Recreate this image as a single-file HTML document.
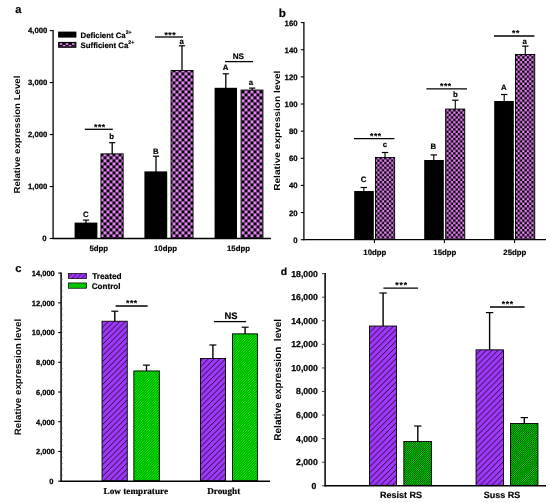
<!DOCTYPE html>
<html lang="en"><head><meta charset="utf-8"><title>Relative expression level</title>
<style>html,body{margin:0;padding:0;background:#fff;}body{width:550px;height:503px;overflow:hidden;}svg{display:block;}</style>
</head><body>
<svg width="550" height="503" viewBox="0 0 550 503" text-rendering="geometricPrecision">
<defs>
<pattern id="chkA" patternUnits="userSpaceOnUse" width="6" height="6" x="100.5" y="153.4"><rect width="6" height="6" fill="#e680f5"/><rect x="0" y="0" width="3" height="3" fill="#000"/><rect x="3" y="3" width="3" height="3" fill="#000"/></pattern>
<pattern id="chkB" patternUnits="userSpaceOnUse" width="4.6" height="4.8" x="375" y="157"><rect width="4.6" height="4.8" fill="#000"/><rect x="2.3" y="0" width="2.3" height="2.4" fill="#e680f5"/><rect x="0" y="2.4" width="2.3" height="2.4" fill="#e680f5"/></pattern>
<pattern id="chkL" patternUnits="userSpaceOnUse" width="6.15" height="3.5" x="59.6" y="43.1"><rect width="6.15" height="3.5" fill="#000"/><rect x="0" y="0" width="2.6" height="1.75" fill="#e680f5"/><rect x="3.07" y="1.75" width="2.6" height="1.75" fill="#e680f5"/></pattern>
<pattern id="hatPC" patternUnits="userSpaceOnUse" width="5.73" height="5.73"><rect width="5.73" height="5.73" fill="#9f38fa"/><path d="M-1 1L1 -1M-1 6.73 L6.73 -1M4.73 6.73 L6.73 4.73" stroke="#000" stroke-width="0.8" fill="none"/></pattern>
<pattern id="hatPD" patternUnits="userSpaceOnUse" width="5.85" height="5.85"><rect width="5.85" height="5.85" fill="#9f38fa"/><path d="M-1 1L1 -1M-1 6.85 L6.85 -1M4.85 6.85 L6.85 4.85" stroke="#000" stroke-width="0.8" fill="none"/></pattern>
<pattern id="hatPL" patternUnits="userSpaceOnUse" width="4.8" height="4.8"><rect width="4.8" height="4.8" fill="#9f38fa"/><path d="M-1 1L1 -1M-1 5.8 L5.8 -1M3.8 5.8 L5.8 3.8" stroke="#000" stroke-width="0.7" fill="none"/></pattern>
<pattern id="hatGL" patternUnits="userSpaceOnUse" width="2.8" height="2.8"><rect width="2.8" height="2.8" fill="#00f000"/><path d="M-1 1L1 -1M-1 3.8 L3.8 -1M1.8 3.8 L3.8 1.8" stroke="#000" stroke-width="0.55" fill="none"/></pattern>
<pattern id="hatGC" patternUnits="userSpaceOnUse" width="2.55" height="2.55"><rect width="2.55" height="2.55" fill="#00f000"/><path d="M-1 1L1 -1M-1 3.55 L3.55 -1M1.55 3.55 L3.55 1.55" stroke="#002800" stroke-width="0.55" fill="none"/></pattern>
<pattern id="hatGD" patternUnits="userSpaceOnUse" width="2.15" height="2.15"><rect width="2.15" height="2.15" fill="#00d000"/><path d="M-1 1L1 -1M-1 3.15 L3.15 -1M1.15 3.15 L3.15 1.15" stroke="#000" stroke-width="0.62" fill="none"/></pattern>
</defs>
<rect x="0" y="0" width="550" height="503" fill="#fff"/>
<g id="panel-a">
<text x="15.2" y="12.9" font-family='"Liberation Sans", Arial, Helvetica, sans-serif' font-size="11.2" font-weight="bold" text-anchor="start" fill="#000" stroke="#000" stroke-width="0.18" stroke-linejoin="round">a</text>
<line x1="86" y1="220.1" x2="86" y2="223.1" stroke="#000" stroke-width="1.3"/>
<line x1="82.9" y1="220.1" x2="89.1" y2="220.1" stroke="#000" stroke-width="1.2"/>
<rect x="74.6" y="222.6" width="22.8" height="15.9" fill="#000"/>
<line x1="112.2" y1="142.7" x2="112.2" y2="153.9" stroke="#000" stroke-width="1.3"/>
<line x1="109.1" y1="142.7" x2="115.3" y2="142.7" stroke="#000" stroke-width="1.2"/>
<rect x="100.95" y="153.85" width="22.2" height="84.2" fill="url(#chkA)" stroke="#000" stroke-width="0.9"/>
<line x1="156" y1="156.2" x2="156" y2="171.9" stroke="#000" stroke-width="1.3"/>
<line x1="152.9" y1="156.2" x2="159.1" y2="156.2" stroke="#000" stroke-width="1.2"/>
<rect x="144.4" y="171.4" width="22.8" height="67.1" fill="#000"/>
<line x1="182" y1="45.8" x2="182" y2="70.5" stroke="#000" stroke-width="1.3"/>
<line x1="178.9" y1="45.8" x2="185.1" y2="45.8" stroke="#000" stroke-width="1.2"/>
<rect x="171.05" y="70.45" width="22" height="167.6" fill="url(#chkA)" stroke="#000" stroke-width="0.9"/>
<line x1="225.8" y1="73.8" x2="225.8" y2="88.3" stroke="#000" stroke-width="1.3"/>
<line x1="222.7" y1="73.8" x2="228.9" y2="73.8" stroke="#000" stroke-width="1.2"/>
<rect x="214.6" y="87.8" width="22.4" height="150.7" fill="#000"/>
<line x1="252.2" y1="88.1" x2="252.2" y2="90.1" stroke="#000" stroke-width="1.3"/>
<line x1="249.1" y1="88.1" x2="255.3" y2="88.1" stroke="#000" stroke-width="1.2"/>
<rect x="241.05" y="90.05" width="21.9" height="148" fill="url(#chkA)" stroke="#000" stroke-width="0.9"/>
<line x1="53.1" y1="30" x2="53.1" y2="239.1" stroke="#000" stroke-width="1.3"/>
<line x1="52.5" y1="238.5" x2="271" y2="238.5" stroke="#000" stroke-width="1.3"/>
<line x1="49.8" y1="238.5" x2="53.1" y2="238.5" stroke="#000" stroke-width="1.1"/>
<text x="46.5" y="241" font-family='"Liberation Sans", Arial, Helvetica, sans-serif' font-size="7.7" font-weight="bold" text-anchor="end" fill="#000" stroke="#000" stroke-width="0.25" stroke-linejoin="round">0</text>
<line x1="49.8" y1="186.53" x2="53.1" y2="186.53" stroke="#000" stroke-width="1.1"/>
<text x="47.3" y="189.03" font-family='"Liberation Sans", Arial, Helvetica, sans-serif' font-size="7.7" font-weight="bold" text-anchor="end" fill="#000" stroke="#000" stroke-width="0.25" stroke-linejoin="round">1,000</text>
<line x1="49.8" y1="134.55" x2="53.1" y2="134.55" stroke="#000" stroke-width="1.1"/>
<text x="47.3" y="137.05" font-family='"Liberation Sans", Arial, Helvetica, sans-serif' font-size="7.7" font-weight="bold" text-anchor="end" fill="#000" stroke="#000" stroke-width="0.25" stroke-linejoin="round">2,000</text>
<line x1="49.8" y1="82.57" x2="53.1" y2="82.57" stroke="#000" stroke-width="1.1"/>
<text x="47.3" y="85.07" font-family='"Liberation Sans", Arial, Helvetica, sans-serif' font-size="7.7" font-weight="bold" text-anchor="end" fill="#000" stroke="#000" stroke-width="0.25" stroke-linejoin="round">3,000</text>
<line x1="49.8" y1="30.6" x2="53.1" y2="30.6" stroke="#000" stroke-width="1.1"/>
<text x="47.3" y="33.1" font-family='"Liberation Sans", Arial, Helvetica, sans-serif' font-size="7.7" font-weight="bold" text-anchor="end" fill="#000" stroke="#000" stroke-width="0.25" stroke-linejoin="round">4,000</text>
<rect x="58.1" y="31.6" width="18.3" height="6" fill="#000"/>
<rect x="58.7" y="42.5" width="17.1" height="4.7" fill="url(#chkL)" stroke="#000" stroke-width="1.2"/>
<text x="80.6" y="37.7" font-family='"Liberation Sans", Arial, Helvetica, sans-serif' font-size="7.8" font-weight="bold" text-anchor="start" fill="#000" stroke="#000" stroke-width="0.18" stroke-linejoin="round">Deficient Ca<tspan font-size="5.2" dy="-3.9">2+</tspan></text>
<text x="80.6" y="47.9" font-family='"Liberation Sans", Arial, Helvetica, sans-serif' font-size="7.8" font-weight="bold" text-anchor="start" fill="#000" stroke="#000" stroke-width="0.18" stroke-linejoin="round">Sufficient Ca<tspan font-size="5.2" dy="-3.9">2+</tspan></text>
<text x="85.8" y="216.8" font-family='"Liberation Sans", Arial, Helvetica, sans-serif' font-size="7.8" font-weight="bold" text-anchor="middle" fill="#000" stroke="#000" stroke-width="0.18" stroke-linejoin="round">C</text>
<text x="111.7" y="139.1" font-family='"Liberation Sans", Arial, Helvetica, sans-serif' font-size="7.8" font-weight="bold" text-anchor="middle" fill="#000" stroke="#000" stroke-width="0.18" stroke-linejoin="round">b</text>
<text x="155.7" y="153.6" font-family='"Liberation Sans", Arial, Helvetica, sans-serif' font-size="7.8" font-weight="bold" text-anchor="middle" fill="#000" stroke="#000" stroke-width="0.18" stroke-linejoin="round">B</text>
<text x="181.6" y="43.7" font-family='"Liberation Sans", Arial, Helvetica, sans-serif' font-size="7.8" font-weight="bold" text-anchor="middle" fill="#000" stroke="#000" stroke-width="0.18" stroke-linejoin="round">a</text>
<text x="225.6" y="70.4" font-family='"Liberation Sans", Arial, Helvetica, sans-serif' font-size="7.8" font-weight="bold" text-anchor="middle" fill="#000" stroke="#000" stroke-width="0.18" stroke-linejoin="round">A</text>
<text x="250.9" y="84.9" font-family='"Liberation Sans", Arial, Helvetica, sans-serif' font-size="7.8" font-weight="bold" text-anchor="middle" fill="#000" stroke="#000" stroke-width="0.18" stroke-linejoin="round">a</text>
<line x1="84.8" y1="129.3" x2="112.8" y2="129.3" stroke="#000" stroke-width="1.3"/>
<text x="99.9" y="129.8" font-family='"Liberation Sans", Arial, Helvetica, sans-serif' font-size="8.5" font-weight="bold" text-anchor="middle" fill="#000" letter-spacing="0.6" stroke="#000" stroke-width="0.18" stroke-linejoin="round">***</text>
<line x1="155" y1="37" x2="183" y2="37" stroke="#000" stroke-width="1.3"/>
<text x="170.3" y="37.5" font-family='"Liberation Sans", Arial, Helvetica, sans-serif' font-size="8.5" font-weight="bold" text-anchor="middle" fill="#000" letter-spacing="0.6" stroke="#000" stroke-width="0.18" stroke-linejoin="round">***</text>
<line x1="225" y1="61.6" x2="253" y2="61.6" stroke="#000" stroke-width="1.3"/>
<text x="238.4" y="59" font-family='"Liberation Sans", Arial, Helvetica, sans-serif' font-size="8.1" font-weight="bold" text-anchor="middle" fill="#000" stroke="#000" stroke-width="0.18" stroke-linejoin="round">NS</text>
<text x="98.7" y="251.1" font-family='"Liberation Sans", Arial, Helvetica, sans-serif' font-size="7.8" font-weight="bold" text-anchor="middle" fill="#000" stroke="#000" stroke-width="0.18" stroke-linejoin="round">5dpp</text>
<text x="165.5" y="251.1" font-family='"Liberation Sans", Arial, Helvetica, sans-serif' font-size="7.8" font-weight="bold" text-anchor="middle" fill="#000" stroke="#000" stroke-width="0.18" stroke-linejoin="round">10dpp</text>
<text x="238.5" y="251.1" font-family='"Liberation Sans", Arial, Helvetica, sans-serif' font-size="7.8" font-weight="bold" text-anchor="middle" fill="#000" stroke="#000" stroke-width="0.18" stroke-linejoin="round">15dpp</text>
<text transform="translate(19.7 134.65) rotate(-90)" x="-58.95" y="0" textLength="117.9" lengthAdjust="spacingAndGlyphs" font-family='"Liberation Sans", Arial, Helvetica, sans-serif' font-size="8.8" font-weight="bold" fill="#000">Relative expression Level</text>
</g>
<g id="panel-b">
<text x="278.8" y="17" font-family='"Liberation Sans", Arial, Helvetica, sans-serif' font-size="11.6" font-weight="bold" text-anchor="start" fill="#000" stroke="#000" stroke-width="0.18" stroke-linejoin="round">b</text>
<line x1="363.8" y1="187.5" x2="363.8" y2="191.5" stroke="#000" stroke-width="1.1"/>
<line x1="360.6" y1="187.5" x2="367" y2="187.5" stroke="#000" stroke-width="1.2"/>
<rect x="354.2" y="191" width="19.6" height="48.7" fill="#000"/>
<line x1="385" y1="152.5" x2="385" y2="157.5" stroke="#000" stroke-width="1.1"/>
<line x1="381.8" y1="152.5" x2="388.2" y2="152.5" stroke="#000" stroke-width="1.2"/>
<rect x="375.45" y="157.45" width="19.2" height="81.8" fill="url(#chkB)" stroke="#000" stroke-width="0.9"/>
<line x1="433.8" y1="154.9" x2="433.8" y2="160.5" stroke="#000" stroke-width="1.1"/>
<line x1="430.6" y1="154.9" x2="437" y2="154.9" stroke="#000" stroke-width="1.2"/>
<rect x="424.2" y="160" width="19.6" height="79.7" fill="#000"/>
<line x1="455.3" y1="100.2" x2="455.3" y2="109.1" stroke="#000" stroke-width="1.1"/>
<line x1="452.1" y1="100.2" x2="458.5" y2="100.2" stroke="#000" stroke-width="1.2"/>
<rect x="445.65" y="109.05" width="19.1" height="130.2" fill="url(#chkB)" stroke="#000" stroke-width="0.9"/>
<line x1="504.2" y1="94.5" x2="504.2" y2="101.5" stroke="#000" stroke-width="1.1"/>
<line x1="501" y1="94.5" x2="507.4" y2="94.5" stroke="#000" stroke-width="1.2"/>
<rect x="494.2" y="101" width="19.6" height="138.7" fill="#000"/>
<line x1="525.3" y1="46.1" x2="525.3" y2="54.5" stroke="#000" stroke-width="1.1"/>
<line x1="522.1" y1="46.1" x2="528.5" y2="46.1" stroke="#000" stroke-width="1.2"/>
<rect x="515.45" y="54.45" width="19.3" height="184.8" fill="url(#chkB)" stroke="#000" stroke-width="0.9"/>
<line x1="303.9" y1="22" x2="303.9" y2="240.3" stroke="#000" stroke-width="1.3"/>
<line x1="303.3" y1="239.7" x2="546" y2="239.7" stroke="#000" stroke-width="1.3"/>
<line x1="374.4" y1="239.7" x2="374.4" y2="243" stroke="#000" stroke-width="1.1"/>
<line x1="444.4" y1="239.7" x2="444.4" y2="243" stroke="#000" stroke-width="1.1"/>
<line x1="514.6" y1="239.7" x2="514.6" y2="243" stroke="#000" stroke-width="1.1"/>
<line x1="300.8" y1="239.7" x2="303.9" y2="239.7" stroke="#000" stroke-width="1.1"/>
<text x="297.6" y="242.7" font-family='"Liberation Sans", Arial, Helvetica, sans-serif' font-size="7.8" font-weight="bold" text-anchor="end" fill="#000" stroke="#000" stroke-width="0.25" stroke-linejoin="round">0</text>
<line x1="300.8" y1="212.56" x2="303.9" y2="212.56" stroke="#000" stroke-width="1.1"/>
<text x="297.6" y="215.56" font-family='"Liberation Sans", Arial, Helvetica, sans-serif' font-size="7.8" font-weight="bold" text-anchor="end" fill="#000" stroke="#000" stroke-width="0.25" stroke-linejoin="round">20</text>
<line x1="300.8" y1="185.42" x2="303.9" y2="185.42" stroke="#000" stroke-width="1.1"/>
<text x="297.6" y="188.42" font-family='"Liberation Sans", Arial, Helvetica, sans-serif' font-size="7.8" font-weight="bold" text-anchor="end" fill="#000" stroke="#000" stroke-width="0.25" stroke-linejoin="round">40</text>
<line x1="300.8" y1="158.29" x2="303.9" y2="158.29" stroke="#000" stroke-width="1.1"/>
<text x="297.6" y="161.29" font-family='"Liberation Sans", Arial, Helvetica, sans-serif' font-size="7.8" font-weight="bold" text-anchor="end" fill="#000" stroke="#000" stroke-width="0.25" stroke-linejoin="round">60</text>
<line x1="300.8" y1="131.15" x2="303.9" y2="131.15" stroke="#000" stroke-width="1.1"/>
<text x="297.6" y="134.15" font-family='"Liberation Sans", Arial, Helvetica, sans-serif' font-size="7.8" font-weight="bold" text-anchor="end" fill="#000" stroke="#000" stroke-width="0.25" stroke-linejoin="round">80</text>
<line x1="300.8" y1="104.01" x2="303.9" y2="104.01" stroke="#000" stroke-width="1.1"/>
<text x="297.6" y="107.01" font-family='"Liberation Sans", Arial, Helvetica, sans-serif' font-size="7.8" font-weight="bold" text-anchor="end" fill="#000" stroke="#000" stroke-width="0.25" stroke-linejoin="round">100</text>
<line x1="300.8" y1="76.88" x2="303.9" y2="76.88" stroke="#000" stroke-width="1.1"/>
<text x="297.6" y="79.88" font-family='"Liberation Sans", Arial, Helvetica, sans-serif' font-size="7.8" font-weight="bold" text-anchor="end" fill="#000" stroke="#000" stroke-width="0.25" stroke-linejoin="round">120</text>
<line x1="300.8" y1="49.74" x2="303.9" y2="49.74" stroke="#000" stroke-width="1.1"/>
<text x="297.6" y="52.74" font-family='"Liberation Sans", Arial, Helvetica, sans-serif' font-size="7.8" font-weight="bold" text-anchor="end" fill="#000" stroke="#000" stroke-width="0.25" stroke-linejoin="round">140</text>
<line x1="300.8" y1="22.6" x2="303.9" y2="22.6" stroke="#000" stroke-width="1.1"/>
<text x="297.6" y="25.6" font-family='"Liberation Sans", Arial, Helvetica, sans-serif' font-size="7.8" font-weight="bold" text-anchor="end" fill="#000" stroke="#000" stroke-width="0.25" stroke-linejoin="round">160</text>
<text x="363.6" y="182" font-family='"Liberation Sans", Arial, Helvetica, sans-serif' font-size="7.8" font-weight="bold" text-anchor="middle" fill="#000" stroke="#000" stroke-width="0.18" stroke-linejoin="round">C</text>
<text x="385" y="147.1" font-family='"Liberation Sans", Arial, Helvetica, sans-serif' font-size="7.8" font-weight="bold" text-anchor="middle" fill="#000" stroke="#000" stroke-width="0.18" stroke-linejoin="round">c</text>
<text x="433.4" y="149.2" font-family='"Liberation Sans", Arial, Helvetica, sans-serif' font-size="7.8" font-weight="bold" text-anchor="middle" fill="#000" stroke="#000" stroke-width="0.18" stroke-linejoin="round">B</text>
<text x="455.4" y="96.7" font-family='"Liberation Sans", Arial, Helvetica, sans-serif' font-size="7.8" font-weight="bold" text-anchor="middle" fill="#000" stroke="#000" stroke-width="0.18" stroke-linejoin="round">b</text>
<text x="503.8" y="90.4" font-family='"Liberation Sans", Arial, Helvetica, sans-serif' font-size="7.8" font-weight="bold" text-anchor="middle" fill="#000" stroke="#000" stroke-width="0.18" stroke-linejoin="round">A</text>
<text x="524.7" y="43.7" font-family='"Liberation Sans", Arial, Helvetica, sans-serif' font-size="7.8" font-weight="bold" text-anchor="middle" fill="#000" stroke="#000" stroke-width="0.18" stroke-linejoin="round">a</text>
<line x1="354" y1="138.6" x2="394.4" y2="138.6" stroke="#000" stroke-width="1.3"/>
<text x="375.9" y="139.1" font-family='"Liberation Sans", Arial, Helvetica, sans-serif' font-size="8.5" font-weight="bold" text-anchor="middle" fill="#000" letter-spacing="0.6" stroke="#000" stroke-width="0.18" stroke-linejoin="round">***</text>
<line x1="426.4" y1="88.8" x2="467" y2="88.8" stroke="#000" stroke-width="1.3"/>
<text x="445.9" y="89.1" font-family='"Liberation Sans", Arial, Helvetica, sans-serif' font-size="8.5" font-weight="bold" text-anchor="middle" fill="#000" letter-spacing="0.6" stroke="#000" stroke-width="0.18" stroke-linejoin="round">***</text>
<line x1="494" y1="36" x2="534.4" y2="36" stroke="#000" stroke-width="1.3"/>
<text x="515.9" y="36.3" font-family='"Liberation Sans", Arial, Helvetica, sans-serif' font-size="8.5" font-weight="bold" text-anchor="middle" fill="#000" letter-spacing="0.6" stroke="#000" stroke-width="0.18" stroke-linejoin="round">**</text>
<text x="374.8" y="255.2" font-family='"Liberation Sans", Arial, Helvetica, sans-serif' font-size="7.8" font-weight="bold" text-anchor="middle" fill="#000" stroke="#000" stroke-width="0.18" stroke-linejoin="round">10dpp</text>
<text x="444.8" y="255.2" font-family='"Liberation Sans", Arial, Helvetica, sans-serif' font-size="7.8" font-weight="bold" text-anchor="middle" fill="#000" stroke="#000" stroke-width="0.18" stroke-linejoin="round">15dpp</text>
<text x="514.8" y="255.2" font-family='"Liberation Sans", Arial, Helvetica, sans-serif' font-size="7.8" font-weight="bold" text-anchor="middle" fill="#000" stroke="#000" stroke-width="0.18" stroke-linejoin="round">25dpp</text>
<text transform="translate(280 130.7) rotate(-90)" x="-60.1" y="0" textLength="120.2" lengthAdjust="spacingAndGlyphs" font-family='"Liberation Sans", Arial, Helvetica, sans-serif' font-size="8.7" font-weight="bold" fill="#000">Relative expression level</text>
</g>
<g id="panel-c">
<text x="15.3" y="271.7" font-family='"Liberation Sans", Arial, Helvetica, sans-serif' font-size="11.2" font-weight="bold" text-anchor="start" fill="#000" stroke="#000" stroke-width="0.18" stroke-linejoin="round">c</text>
<line x1="114.8" y1="311.2" x2="114.8" y2="321.3" stroke="#000" stroke-width="1.4"/>
<line x1="111.3" y1="311.2" x2="118.3" y2="311.2" stroke="#000" stroke-width="1.2"/>
<rect x="102.05" y="321.25" width="25.2" height="159.5" fill="url(#hatPC)" stroke="#000" stroke-width="0.9"/>
<line x1="146.5" y1="365.1" x2="146.5" y2="371" stroke="#000" stroke-width="1.4"/>
<line x1="143" y1="365.1" x2="150" y2="365.1" stroke="#000" stroke-width="1.2"/>
<rect x="133.85" y="370.95" width="25.5" height="109.8" fill="url(#hatGC)" stroke="#000" stroke-width="0.9"/>
<line x1="212.9" y1="345" x2="212.9" y2="358.5" stroke="#000" stroke-width="1.4"/>
<line x1="209.4" y1="345" x2="216.4" y2="345" stroke="#000" stroke-width="1.2"/>
<rect x="200.45" y="358.45" width="25.1" height="122.3" fill="url(#hatPC)" stroke="#000" stroke-width="0.9"/>
<line x1="245.1" y1="327.2" x2="245.1" y2="333.9" stroke="#000" stroke-width="1.4"/>
<line x1="241.6" y1="327.2" x2="248.6" y2="327.2" stroke="#000" stroke-width="1.2"/>
<rect x="232.45" y="333.85" width="25.1" height="146.9" fill="url(#hatGC)" stroke="#000" stroke-width="0.9"/>
<line x1="61.1" y1="272.5" x2="61.1" y2="481.9" stroke="#000" stroke-width="1.5"/>
<line x1="60.4" y1="481.2" x2="270" y2="481.2" stroke="#000" stroke-width="1.4"/>
<line x1="58.2" y1="481.2" x2="61.1" y2="481.2" stroke="#000" stroke-width="1.1"/>
<text x="53.4" y="484" font-family='"Liberation Sans", Arial, Helvetica, sans-serif' font-size="7.5" font-weight="bold" text-anchor="end" fill="#000" stroke="#000" stroke-width="0.25" stroke-linejoin="round">0</text>
<line x1="61.1" y1="475.25" x2="62.8" y2="475.25" stroke="#555" stroke-width="0.7"/>
<line x1="61.1" y1="469.31" x2="62.8" y2="469.31" stroke="#555" stroke-width="0.7"/>
<line x1="61.1" y1="463.36" x2="62.8" y2="463.36" stroke="#555" stroke-width="0.7"/>
<line x1="61.1" y1="457.42" x2="62.8" y2="457.42" stroke="#555" stroke-width="0.7"/>
<line x1="58.2" y1="451.47" x2="61.1" y2="451.47" stroke="#000" stroke-width="1.1"/>
<text x="54.8" y="454.27" font-family='"Liberation Sans", Arial, Helvetica, sans-serif' font-size="7.5" font-weight="bold" text-anchor="end" fill="#000" stroke="#000" stroke-width="0.25" stroke-linejoin="round">2,000</text>
<line x1="61.1" y1="445.53" x2="62.8" y2="445.53" stroke="#555" stroke-width="0.7"/>
<line x1="61.1" y1="439.58" x2="62.8" y2="439.58" stroke="#555" stroke-width="0.7"/>
<line x1="61.1" y1="433.63" x2="62.8" y2="433.63" stroke="#555" stroke-width="0.7"/>
<line x1="61.1" y1="427.69" x2="62.8" y2="427.69" stroke="#555" stroke-width="0.7"/>
<line x1="58.2" y1="421.74" x2="61.1" y2="421.74" stroke="#000" stroke-width="1.1"/>
<text x="54.8" y="424.54" font-family='"Liberation Sans", Arial, Helvetica, sans-serif' font-size="7.5" font-weight="bold" text-anchor="end" fill="#000" stroke="#000" stroke-width="0.25" stroke-linejoin="round">4,000</text>
<line x1="61.1" y1="415.8" x2="62.8" y2="415.8" stroke="#555" stroke-width="0.7"/>
<line x1="61.1" y1="409.85" x2="62.8" y2="409.85" stroke="#555" stroke-width="0.7"/>
<line x1="61.1" y1="403.91" x2="62.8" y2="403.91" stroke="#555" stroke-width="0.7"/>
<line x1="61.1" y1="397.96" x2="62.8" y2="397.96" stroke="#555" stroke-width="0.7"/>
<line x1="58.2" y1="392.01" x2="61.1" y2="392.01" stroke="#000" stroke-width="1.1"/>
<text x="54.8" y="394.81" font-family='"Liberation Sans", Arial, Helvetica, sans-serif' font-size="7.5" font-weight="bold" text-anchor="end" fill="#000" stroke="#000" stroke-width="0.25" stroke-linejoin="round">6,000</text>
<line x1="61.1" y1="386.07" x2="62.8" y2="386.07" stroke="#555" stroke-width="0.7"/>
<line x1="61.1" y1="380.12" x2="62.8" y2="380.12" stroke="#555" stroke-width="0.7"/>
<line x1="61.1" y1="374.18" x2="62.8" y2="374.18" stroke="#555" stroke-width="0.7"/>
<line x1="61.1" y1="368.23" x2="62.8" y2="368.23" stroke="#555" stroke-width="0.7"/>
<line x1="58.2" y1="362.29" x2="61.1" y2="362.29" stroke="#000" stroke-width="1.1"/>
<text x="54.8" y="365.09" font-family='"Liberation Sans", Arial, Helvetica, sans-serif' font-size="7.5" font-weight="bold" text-anchor="end" fill="#000" stroke="#000" stroke-width="0.25" stroke-linejoin="round">8,000</text>
<line x1="61.1" y1="356.34" x2="62.8" y2="356.34" stroke="#555" stroke-width="0.7"/>
<line x1="61.1" y1="350.39" x2="62.8" y2="350.39" stroke="#555" stroke-width="0.7"/>
<line x1="61.1" y1="344.45" x2="62.8" y2="344.45" stroke="#555" stroke-width="0.7"/>
<line x1="61.1" y1="338.5" x2="62.8" y2="338.5" stroke="#555" stroke-width="0.7"/>
<line x1="58.2" y1="332.56" x2="61.1" y2="332.56" stroke="#000" stroke-width="1.1"/>
<text x="54.8" y="335.36" font-family='"Liberation Sans", Arial, Helvetica, sans-serif' font-size="7.5" font-weight="bold" text-anchor="end" fill="#000" stroke="#000" stroke-width="0.25" stroke-linejoin="round">10,000</text>
<line x1="61.1" y1="326.61" x2="62.8" y2="326.61" stroke="#555" stroke-width="0.7"/>
<line x1="61.1" y1="320.67" x2="62.8" y2="320.67" stroke="#555" stroke-width="0.7"/>
<line x1="61.1" y1="314.72" x2="62.8" y2="314.72" stroke="#555" stroke-width="0.7"/>
<line x1="61.1" y1="308.77" x2="62.8" y2="308.77" stroke="#555" stroke-width="0.7"/>
<line x1="58.2" y1="302.83" x2="61.1" y2="302.83" stroke="#000" stroke-width="1.1"/>
<text x="54.8" y="305.63" font-family='"Liberation Sans", Arial, Helvetica, sans-serif' font-size="7.5" font-weight="bold" text-anchor="end" fill="#000" stroke="#000" stroke-width="0.25" stroke-linejoin="round">12,000</text>
<line x1="61.1" y1="296.88" x2="62.8" y2="296.88" stroke="#555" stroke-width="0.7"/>
<line x1="61.1" y1="290.94" x2="62.8" y2="290.94" stroke="#555" stroke-width="0.7"/>
<line x1="61.1" y1="284.99" x2="62.8" y2="284.99" stroke="#555" stroke-width="0.7"/>
<line x1="61.1" y1="279.05" x2="62.8" y2="279.05" stroke="#555" stroke-width="0.7"/>
<line x1="58.2" y1="273.1" x2="61.1" y2="273.1" stroke="#000" stroke-width="1.1"/>
<text x="54.8" y="275.9" font-family='"Liberation Sans", Arial, Helvetica, sans-serif' font-size="7.5" font-weight="bold" text-anchor="end" fill="#000" stroke="#000" stroke-width="0.25" stroke-linejoin="round">14,000</text>
<rect x="68.35" y="273.35" width="18.3" height="5.3" fill="url(#hatPL)" stroke="#000" stroke-width="0.7"/>
<rect x="68.35" y="282.95" width="18.3" height="5.3" fill="url(#hatGL)" stroke="#000" stroke-width="0.7"/>
<text x="92.2" y="278.8" font-family='"Liberation Sans", Arial, Helvetica, sans-serif' font-size="8.25" font-weight="bold" text-anchor="start" fill="#000" stroke="#000" stroke-width="0.18" stroke-linejoin="round">Treated</text>
<text x="91.7" y="288.5" font-family='"Liberation Sans", Arial, Helvetica, sans-serif' font-size="8.15" font-weight="bold" text-anchor="start" fill="#000" stroke="#000" stroke-width="0.18" stroke-linejoin="round">Control</text>
<line x1="115.6" y1="306" x2="147.6" y2="306" stroke="#000" stroke-width="1.3"/>
<text x="131.9" y="305.7" font-family='"Liberation Sans", Arial, Helvetica, sans-serif' font-size="8.5" font-weight="bold" text-anchor="middle" fill="#000" letter-spacing="0.6" stroke="#000" stroke-width="0.18" stroke-linejoin="round">***</text>
<line x1="214" y1="321.6" x2="246" y2="321.6" stroke="#000" stroke-width="1.3"/>
<text x="231" y="318.7" font-family='"Liberation Sans", Arial, Helvetica, sans-serif' font-size="9.4" font-weight="bold" text-anchor="middle" fill="#000" stroke="#000" stroke-width="0.18" stroke-linejoin="round">NS</text>
<text x="135.8" y="493.8" font-family='"Liberation Serif", "Times New Roman", Times, serif' font-size="9.2" font-weight="bold" text-anchor="middle" fill="#000" stroke="#000" stroke-width="0.18" stroke-linejoin="round">Low temprature</text>
<text x="223.7" y="493.8" font-family='"Liberation Serif", "Times New Roman", Times, serif' font-size="9.2" font-weight="bold" text-anchor="middle" fill="#000" stroke="#000" stroke-width="0.18" stroke-linejoin="round">Drought</text>
<text transform="translate(21.1 377.1) rotate(-90)" x="-58.2" y="0" textLength="116.4" lengthAdjust="spacingAndGlyphs" font-family='"Liberation Sans", Arial, Helvetica, sans-serif' font-size="9.3" font-weight="bold" fill="#000">Relative expression level</text>
</g>
<g id="panel-d">
<text x="280.8" y="274.8" font-family='"Liberation Sans", Arial, Helvetica, sans-serif' font-size="10.4" font-weight="bold" text-anchor="start" fill="#000" stroke="#000" stroke-width="0.18" stroke-linejoin="round">d</text>
<line x1="383.1" y1="293" x2="383.1" y2="326.1" stroke="#000" stroke-width="1.4"/>
<line x1="379.4" y1="293" x2="386.8" y2="293" stroke="#000" stroke-width="1.2"/>
<rect x="369.45" y="326.05" width="27.1" height="159.3" fill="url(#hatPD)" stroke="#000" stroke-width="0.9"/>
<line x1="417.8" y1="426" x2="417.8" y2="441.6" stroke="#000" stroke-width="1.4"/>
<line x1="414.1" y1="426" x2="421.5" y2="426" stroke="#000" stroke-width="1.2"/>
<rect x="403.85" y="441.55" width="27.6" height="43.8" fill="url(#hatGD)" stroke="#000" stroke-width="0.9"/>
<line x1="489.6" y1="312.6" x2="489.6" y2="349.9" stroke="#000" stroke-width="1.4"/>
<line x1="485.9" y1="312.6" x2="493.3" y2="312.6" stroke="#000" stroke-width="1.2"/>
<rect x="476.05" y="349.85" width="27.5" height="135.5" fill="url(#hatPD)" stroke="#000" stroke-width="0.9"/>
<line x1="524.3" y1="417.6" x2="524.3" y2="423.5" stroke="#000" stroke-width="1.4"/>
<line x1="520.6" y1="417.6" x2="528" y2="417.6" stroke="#000" stroke-width="1.2"/>
<rect x="510.45" y="423.45" width="27.5" height="61.9" fill="url(#hatGD)" stroke="#000" stroke-width="0.9"/>
<line x1="325.1" y1="273" x2="325.1" y2="486.5" stroke="#000" stroke-width="1.5"/>
<line x1="324.4" y1="485.8" x2="546" y2="485.8" stroke="#000" stroke-width="1.4"/>
<line x1="322" y1="485.8" x2="325.1" y2="485.8" stroke="#333" stroke-width="0.9"/>
<text x="316.4" y="488.8" font-family='"Liberation Sans", Arial, Helvetica, sans-serif' font-size="8.7" font-weight="bold" text-anchor="end" fill="#000" stroke="#000" stroke-width="0.25" stroke-linejoin="round">0</text>
<line x1="322" y1="462.22" x2="325.1" y2="462.22" stroke="#333" stroke-width="0.9"/>
<text x="317.8" y="465.22" font-family='"Liberation Sans", Arial, Helvetica, sans-serif' font-size="8.7" font-weight="bold" text-anchor="end" fill="#000" stroke="#000" stroke-width="0.25" stroke-linejoin="round">2,000</text>
<line x1="322" y1="438.64" x2="325.1" y2="438.64" stroke="#333" stroke-width="0.9"/>
<text x="317.8" y="441.64" font-family='"Liberation Sans", Arial, Helvetica, sans-serif' font-size="8.7" font-weight="bold" text-anchor="end" fill="#000" stroke="#000" stroke-width="0.25" stroke-linejoin="round">4,000</text>
<line x1="322" y1="415.07" x2="325.1" y2="415.07" stroke="#333" stroke-width="0.9"/>
<text x="317.8" y="418.07" font-family='"Liberation Sans", Arial, Helvetica, sans-serif' font-size="8.7" font-weight="bold" text-anchor="end" fill="#000" stroke="#000" stroke-width="0.25" stroke-linejoin="round">6,000</text>
<line x1="322" y1="391.49" x2="325.1" y2="391.49" stroke="#333" stroke-width="0.9"/>
<text x="317.8" y="394.49" font-family='"Liberation Sans", Arial, Helvetica, sans-serif' font-size="8.7" font-weight="bold" text-anchor="end" fill="#000" stroke="#000" stroke-width="0.25" stroke-linejoin="round">8,000</text>
<line x1="322" y1="367.91" x2="325.1" y2="367.91" stroke="#333" stroke-width="0.9"/>
<text x="317.8" y="370.91" font-family='"Liberation Sans", Arial, Helvetica, sans-serif' font-size="8.7" font-weight="bold" text-anchor="end" fill="#000" stroke="#000" stroke-width="0.25" stroke-linejoin="round">10,000</text>
<line x1="322" y1="344.33" x2="325.1" y2="344.33" stroke="#333" stroke-width="0.9"/>
<text x="317.8" y="347.33" font-family='"Liberation Sans", Arial, Helvetica, sans-serif' font-size="8.7" font-weight="bold" text-anchor="end" fill="#000" stroke="#000" stroke-width="0.25" stroke-linejoin="round">12,000</text>
<line x1="322" y1="320.76" x2="325.1" y2="320.76" stroke="#333" stroke-width="0.9"/>
<text x="317.8" y="323.76" font-family='"Liberation Sans", Arial, Helvetica, sans-serif' font-size="8.7" font-weight="bold" text-anchor="end" fill="#000" stroke="#000" stroke-width="0.25" stroke-linejoin="round">14,000</text>
<line x1="322" y1="297.18" x2="325.1" y2="297.18" stroke="#333" stroke-width="0.9"/>
<text x="317.8" y="300.18" font-family='"Liberation Sans", Arial, Helvetica, sans-serif' font-size="8.7" font-weight="bold" text-anchor="end" fill="#000" stroke="#000" stroke-width="0.25" stroke-linejoin="round">16,000</text>
<line x1="322" y1="273.6" x2="325.1" y2="273.6" stroke="#333" stroke-width="0.9"/>
<text x="317.8" y="276.6" font-family='"Liberation Sans", Arial, Helvetica, sans-serif' font-size="8.7" font-weight="bold" text-anchor="end" fill="#000" stroke="#000" stroke-width="0.25" stroke-linejoin="round">18,000</text>
<line x1="383.4" y1="288.2" x2="418" y2="288.2" stroke="#000" stroke-width="1.3"/>
<text x="401.6" y="287.7" font-family='"Liberation Sans", Arial, Helvetica, sans-serif' font-size="8.5" font-weight="bold" text-anchor="middle" fill="#000" letter-spacing="1.0" stroke="#000" stroke-width="0.18" stroke-linejoin="round">***</text>
<line x1="490" y1="307" x2="524.6" y2="307" stroke="#000" stroke-width="1.3"/>
<text x="507.8" y="307" font-family='"Liberation Sans", Arial, Helvetica, sans-serif' font-size="8.5" font-weight="bold" text-anchor="middle" fill="#000" letter-spacing="0.8" stroke="#000" stroke-width="0.18" stroke-linejoin="round">***</text>
<text x="401" y="497.9" font-family='"Liberation Sans", Arial, Helvetica, sans-serif' font-size="9.05" font-weight="bold" text-anchor="middle" fill="#000" stroke="#000" stroke-width="0.18" stroke-linejoin="round">Resist RS</text>
<text x="502" y="497.9" font-family='"Liberation Sans", Arial, Helvetica, sans-serif' font-size="9.05" font-weight="bold" text-anchor="middle" fill="#000" stroke="#000" stroke-width="0.18" stroke-linejoin="round">Suss RS</text>
<text transform="translate(281.1 379.8) rotate(-90)" x="-60.9" y="0" textLength="121.8" lengthAdjust="spacingAndGlyphs" font-family='"Liberation Sans", Arial, Helvetica, sans-serif' font-size="9.9" font-weight="bold" fill="#000">Relative expression  level</text>
</g>
</svg>
</body></html>
